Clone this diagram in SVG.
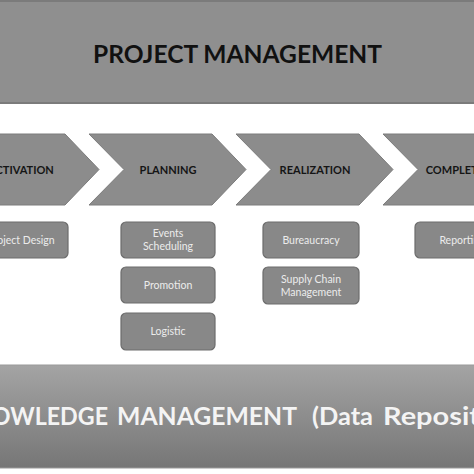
<svg xmlns="http://www.w3.org/2000/svg" width="474" height="474" viewBox="0 0 474 474">
<defs>
<linearGradient id="kmGrad" x1="0" y1="0" x2="0" y2="1">
<stop offset="0" stop-color="#a4a4a4"/>
<stop offset="1" stop-color="#767676"/>
</linearGradient>
<style>
.band{fill:#8f8f8f;stroke:#7b7b7b;stroke-width:2}
.chev{fill:#8c8c8c;stroke:#7c7c7c;stroke-width:1}
.box{fill:#888888;stroke:#6c6c6c;stroke-width:1.2}
.title{font-family:Lato,"Liberation Sans",sans-serif;font-weight:bold;font-size:25px;fill:#111111}
.km{font-family:Lato,"Liberation Sans",sans-serif;font-weight:bold;font-size:25px;fill:#f4f4f4}
.phase{font-family:Lato,"Liberation Sans",sans-serif;font-weight:bold;font-size:11px;fill:#151515;text-anchor:middle}
.task{font-family:Lato,"Liberation Sans",sans-serif;font-size:10.5px;fill:#ececec;text-anchor:middle}
</style>
</defs>
<rect width="474" height="474" fill="#ffffff"/>

<g id="project-management">
<rect class="band" x="-5" y="1" width="484" height="102"/>
<text class="title" x="237.5" y="63" text-anchor="middle" textLength="289" lengthAdjust="spacingAndGlyphs">PROJECT MANAGEMENT</text>
</g>

<g id="activation">
<path class="chev" d="M-58,134 L65,134 L99,169.5 L65,205 L-58,205 L-23,169.5 Z"/>
<text class="phase" x="21" y="174">ACTIVATION</text>
</g>
<g id="planning">
<path class="chev" d="M89,134 L212,134 L246,169.5 L212,205 L89,205 L124,169.5 Z"/>
<text class="phase" x="168" y="174">PLANNING</text>
</g>
<g id="realization">
<path class="chev" d="M236,134 L359,134 L393,169.5 L359,205 L236,205 L271,169.5 Z"/>
<text class="phase" x="315" y="174">REALIZATION</text>
</g>
<g id="completion">
<path class="chev" d="M383,134 L506,134 L540,169.5 L506,205 L383,205 L418,169.5 Z"/>
<text class="phase" x="462" y="174">COMPLETION</text>
</g>

<g id="project-design">
<rect class="box" x="-26" y="222" width="94" height="36" rx="5"/>
<text class="task" x="21" y="244">Project Design</text>
</g>
<g id="events-scheduling">
<rect class="box" x="121" y="222" width="94" height="36" rx="5"/>
<text class="task" x="168" y="237">Events</text>
<text class="task" x="168" y="249.5">Scheduling</text>
</g>
<g id="promotion">
<rect class="box" x="121" y="267" width="94" height="36" rx="5"/>
<text class="task" x="168" y="289">Promotion</text>
</g>
<g id="logistic">
<rect class="box" x="121" y="313" width="94" height="37" rx="5"/>
<text class="task" x="168" y="335">Logistic</text>
</g>
<g id="bureaucracy">
<rect class="box" x="263" y="222" width="96" height="36" rx="5"/>
<text class="task" x="311" y="244">Bureaucracy</text>
</g>
<g id="supply-chain">
<rect class="box" x="263" y="267" width="96" height="37" rx="5"/>
<text class="task" x="311" y="283">Supply Chain</text>
<text class="task" x="311" y="296">Management</text>
</g>
<g id="reporting">
<rect class="box" x="415" y="222" width="94" height="36" rx="5"/>
<text class="task" x="462" y="244">Reporting</text>
</g>

<g id="knowledge-management">
<rect x="-5" y="365" width="484" height="103" fill="url(#kmGrad)" stroke="#9a9a9a" stroke-width="1"/>
<text class="km" y="425"><tspan x="-42" textLength="150" lengthAdjust="spacingAndGlyphs">KNOWLEDGE</tspan><tspan x="117" textLength="180" lengthAdjust="spacingAndGlyphs">MANAGEMENT</tspan><tspan x="312" textLength="61" lengthAdjust="spacingAndGlyphs">(Data</tspan><tspan x="383" textLength="147" lengthAdjust="spacingAndGlyphs">Repository)</tspan></text>
</g>

<g id="connectors"></g>
</svg>
